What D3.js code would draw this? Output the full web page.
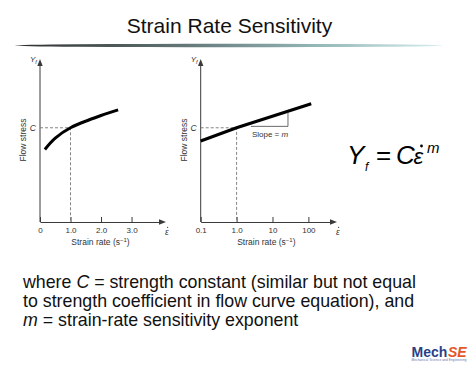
<!DOCTYPE html>
<html>
<head>
<meta charset="utf-8">
<script src="https://cdn.jsdelivr.net/npm/d3@7"></script>
<style>
  html, body { margin: 0; padding: 0; background: #fff; }
  svg { display: block; font-family: "Liberation Sans", Arial, Helvetica, sans-serif; }
</style>
</head>
<body>
<div id="chart"></div>
<script>
// values (stress in units of C)
const title = "Strain Rate Sensitivity";
const leftRate = [0.16, 0.5, 1.0, 1.5, 2.0, 2.56];
const leftStress = [0.77, 0.89, 1.0, 1.07, 1.13, 1.19];
const rightRate = [0.1, 1.0, 120];
const rightStress = [0.86, 1.0, 1.255];
const leftTicks = [0, 1, 2, 3];
const leftTickLabels = ["0", "1.0", "2.0", "3.0"];
const rightTicks = [0.1, 1, 10, 100];
const rightTickLabels = ["0.1", "1.0", "10", "100"];
const cStress = 1.0;
const cRate = 1.0;
const slopeRate = [2.5, 27];
const slopeStress = [1.015, 1.165];

const svg = d3
  .select("#chart")
  .append("svg")
  .attr("width", 474)
  .attr("height", 366);

// title + rule
svg
  .append("text")
  .attr("x", 229.5)
  .attr("y", 33)
  .attr("text-anchor", "middle")
  .attr("font-size", 21)
  .attr("fill", "#111")
  .text(title);

const grad = svg
  .append("defs")
  .append("linearGradient")
  .attr("id", "rule")
  .attr("x1", "0%")
  .attr("x2", "100%");
grad.append("stop").attr("offset", "0%").attr("stop-color", "#2e2e2e");
grad.append("stop").attr("offset", "35%").attr("stop-color", "#5d6e6e");
grad.append("stop").attr("offset", "70%").attr("stop-color", "#94b6b6");
grad.append("stop").attr("offset", "100%").attr("stop-color", "#d6ecec");

svg
  .append("ellipse")
  .attr("cx", 229)
  .attr("cy", 45.5)
  .attr("rx", 214)
  .attr("ry", 1.7)
  .attr("fill", "url(#rule)");

// scales
const y = d3.scaleLinear().domain([0, 1.73]).range([222, 59]);
const xL = d3.scaleLinear().domain([0, 3.9]).range([40, 159]);
const xR = d3.scaleLog().domain([0.1, 400]).range([200.7, 330]);

const axisColor = "#3a3a3a";

function drawPanel(x, ticks, tickLabels, rate, stress, curve) {
  const x0 = x.range()[0];
  const x1 = x.range()[1];
  const g = svg.append("g");

  // x axis
  g.append("g")
    .attr("transform", "translate(0,222)")
    .call(
      d3
        .axisBottom(x)
        .tickValues(ticks)
        .tickSize(-5)
        .tickSizeOuter(0)
        .tickPadding(5)
        .tickFormat((d, i) => tickLabels[i])
    )
    .call((a) => a.select(".domain").attr("stroke", axisColor))
    .call((a) => a.selectAll(".tick line").attr("stroke", axisColor))
    .call((a) =>
      a
        .selectAll(".tick text")
        .attr("fill", "#333")
        .attr("font-size", 8)
        .attr("font-family", "Liberation Sans, Arial, sans-serif")
    );

  g.append("path")
    .attr("d", `M${x1 + 7},222 L${x1},219.3 L${x1},224.7 Z`)
    .attr("fill", axisColor);

  // y axis
  g.append("line")
    .attr("x1", x0)
    .attr("x2", x0)
    .attr("y1", y(0))
    .attr("y2", y.range()[1] + 6)
    .attr("stroke", axisColor);
  g.append("path")
    .attr("d", `M${x0},${y.range()[1]} L${x0 - 2.7},${y.range()[1] + 7} L${x0 + 2.7},${y.range()[1] + 7} Z`)
    .attr("fill", axisColor);

  // Yf
  const yl = g
    .append("text")
    .attr("x", x0 - 10)
    .attr("y", y.range()[1] + 3)
    .attr("font-size", 8)
    .attr("font-style", "italic")
    .attr("fill", "#333");
  yl.append("tspan").text("Y");
  yl.append("tspan").attr("font-size", 5.5).attr("dy", 2).text("f");

  // epsilon dot at arrow
  g.append("text")
    .attr("x", x1 + 6)
    .attr("y", 235)
    .attr("font-size", 8.5)
    .attr("font-style", "italic")
    .attr("fill", "#333")
    .text("\u03b5");
  g.append("circle")
    .attr("cx", x1 + 8.6)
    .attr("cy", 227.3)
    .attr("r", 0.6)
    .attr("fill", "#333");

  // axis titles
  const xt = g
    .append("text")
    .attr("x", (x0 + x1) / 2 + 1)
    .attr("y", 244.5)
    .attr("text-anchor", "middle")
    .attr("font-size", 8.5)
    .attr("fill", "#333");
  xt.append("tspan").text("Strain rate (s");
  xt.append("tspan").attr("font-size", 6).attr("dy", -3).text("\u22121");
  xt.append("tspan").attr("dy", 3).text(")");

  g.append("text")
    .attr("transform", `translate(${x0 - 14},140) rotate(-90)`)
    .attr("text-anchor", "middle")
    .attr("font-size", 8.5)
    .attr("fill", "#333")
    .text("Flow stress");

  // C guide
  g.append("path")
    .attr("d", `M${x0},${y(cStress)} H${x(cRate)} V${y(0)}`)
    .attr("fill", "none")
    .attr("stroke", "#777")
    .attr("stroke-dasharray", "3,2")
    .attr("stroke-width", 0.9);
  g.append("text")
    .attr("x", x0 - 4)
    .attr("y", y(cStress) + 3)
    .attr("text-anchor", "end")
    .attr("font-size", 8.5)
    .attr("font-style", "italic")
    .attr("fill", "#333")
    .text("C");

  // curve
  const line = d3
    .line()
    .x((d) => x(d[0]))
    .y((d) => y(d[1]))
    .curve(curve);
  g.append("path")
    .datum(d3.zip(rate, stress))
    .attr("d", line)
    .attr("fill", "none")
    .attr("stroke", "#000")
    .attr("stroke-width", 3);
  return g;
}

drawPanel(xL, leftTicks, leftTickLabels, leftRate, leftStress, d3.curveNatural);
const right = drawPanel(xR, rightTicks, rightTickLabels, rightRate, rightStress, d3.curveLinear);

// slope triangle
right
  .append("path")
  .attr("d", `M${xR(slopeRate[0])},${y(slopeStress[0])} H${xR(slopeRate[1])} V${y(slopeStress[1])}`)
  .attr("fill", "none")
  .attr("stroke", "#444")
  .attr("stroke-width", 0.8);
const sl = right
  .append("text")
  .attr("x", xR(slopeRate[0]) + 1)
  .attr("y", y(slopeStress[0]) + 11)
  .attr("font-size", 8)
  .attr("fill", "#333");
sl.append("tspan").text("Slope = ");
sl.append("tspan").attr("font-style", "italic").text("m");

// formula
const f = svg.append("g").attr("fill", "#000");
f.append("text").attr("x", 347).attr("y", 164).attr("font-size", 26).attr("font-style", "italic").text("Y");
f.append("text").attr("x", 365).attr("y", 171).attr("font-size", 12).attr("font-style", "italic").text("f");
f.append("text").attr("x", 376).attr("y", 164).attr("font-size", 26).text("=");
f.append("text").attr("x", 396).attr("y", 164).attr("font-size", 26).attr("font-style", "italic").text("C");
f.append("text").attr("x", 413.5).attr("y", 164).attr("font-size", 22).attr("font-style", "italic").text("\u03b5");
f.append("circle").attr("cx", 421.5).attr("cy", 146).attr("r", 1.4);
f.append("text").attr("x", 427).attr("y", 153).attr("font-size", 15).attr("font-style", "italic").text("m");

// notes
const notes = svg
  .append("text")
  .attr("font-size", 17.8)
  .attr("fill", "#111");
const l1 = notes.append("tspan").attr("x", 23).attr("y", 288);
l1.append("tspan").text("where ");
l1.append("tspan").attr("font-style", "italic").text("C");
l1.append("tspan").text(" = strength constant (similar but not equal");
notes
  .append("tspan")
  .attr("x", 23)
  .attr("y", 307)
  .text("to strength coefficient in flow curve equation), and");
const l3 = notes.append("tspan").attr("x", 23).attr("y", 326);
l3.append("tspan").attr("font-style", "italic").text("m");
l3.append("tspan").text(" = strain-rate sensitivity exponent");

// logo
const logo = svg.append("g");
logo
  .append("text")
  .attr("x", 411.5)
  .attr("y", 356.5)
  .attr("font-size", 14)
  .attr("font-weight", "bold")
  .attr("fill", "#2b3f86")
  .text("Mech");
logo
  .append("text")
  .attr("x", 448)
  .attr("y", 356.5)
  .attr("font-size", 14)
  .attr("font-weight", "bold")
  .attr("font-style", "italic")
  .attr("fill", "#e4572a")
  .text("SE");
logo
  .append("text")
  .attr("x", 411.5)
  .attr("y", 361)
  .attr("font-size", 3)
  .attr("fill", "#5a6aa0")
  .attr("textLength", 55)
  .text("Mechanical Science and Engineering");
</script>
</body>
</html>
